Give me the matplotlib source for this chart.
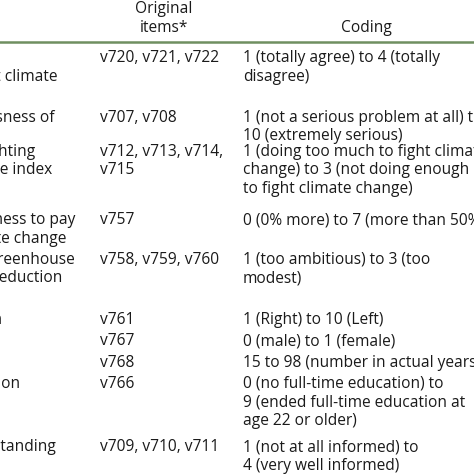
import matplotlib.pyplot as plt

# --- table content (cropped at both edges, like the reference) ---
header_items = ["Original", "items*"]
header_coding = "Coding"

variables = [
    ["Personal responsibility", "to fight climate"],
    ["Perceived seriousness of", "climate change"],
    ["Government fighting", "climate change index"],
    ["Willingness to pay", "for climate change"],
    ["EU targets greenhouse", "gas emission reduction"],
    ["Political orientation"],
    ["Gender"],
    ["Age"],
    ["Level of education"],
    ["Subjective understanding"],
]
items = [
    ["v720, v721, v722"],
    ["v707, v708"],
    ["v712, v713, v714,", "v715"],
    ["v757"],
    ["v758, v759, v760"],
    ["v761"],
    ["v767"],
    ["v768"],
    ["v766"],
    ["v709, v710, v711"],
]
coding = [
    ["1 (totally agree) to 4 (totally", "disagree)"],
    ["1 (not a serious problem at all) to", "10 (extremely serious)"],
    ["1 (doing too much to fight climate", "change) to 3 (not doing enough", "to fight climate change)"],
    ["0 (0% more) to 7 (more than 50%)"],
    ["1 (too ambitious) to 3 (too", "modest)"],
    ["1 (Right) to 10 (Left)"],
    ["0 (male) to 1 (female)"],
    ["15 to 98 (number in actual years)"],
    ["0 (no full-time education) to", "9 (ended full-time education at", "age 22 or older)"],
    ["1 (not at all informed) to", "4 (very well informed)"],
]
# first-line pixel y of each row, and where the first column text ends
row_y = [58, 118, 152, 220, 260, 320, 341, 363, 384, 447]
var_end = [[0, 58], [55, 0], [35, 52], [75, 66], [75, 62], [2], [0], [0], [20], [56]]

line_h = 18.5
fs = 11.2
col_items = 100
col_coding = 243

fig = plt.figure(figsize=(4.74, 4.74), dpi=100)
ax = fig.add_axes([0, 0, 1, 1])
ax.set_xlim(0, 474)
ax.set_ylim(474, 0)
ax.axis('off')

font = dict(fontsize=fs, color='#1a1a1a', family='Open Sans', va='center', clip_on=True)

ax.text(164, 9, header_items[0], ha='center', **font)
ax.text(164, 28, header_items[1], ha='center', **font)
ax.text(366, 28, header_coding, ha='center', **font)
ax.axhline(42, color='#6f8f60', lw=1.8)

for i, y in enumerate(row_y):
    for j, t in enumerate(variables[i]):
        xe = var_end[i][j] if j < len(var_end[i]) else 0
        if xe > 0:
            ax.text(xe, y + j * line_h, t, ha='right', **font)
    for j, t in enumerate(items[i]):
        ax.text(col_items, y + j * line_h, t, ha='left', **font)
    for j, t in enumerate(coding[i]):
        ax.text(col_coding, y + j * line_h, t, ha='left', **font)

fig.savefig('out.png', dpi=100)
